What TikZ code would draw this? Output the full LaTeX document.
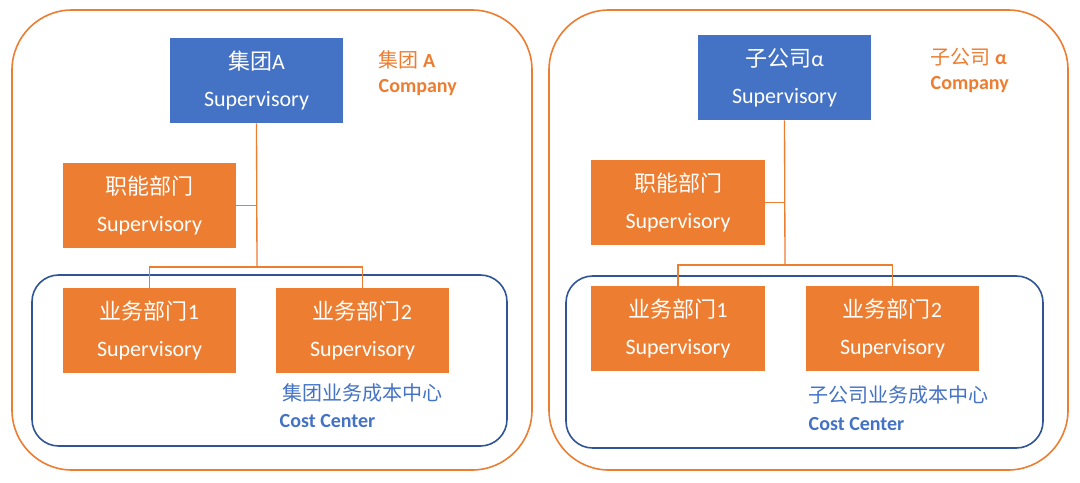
\documentclass[tikz,border=0pt]{standalone}
\usepackage{fontspec}
\setmainfont{Carlito}
\newfontfamily\cjk{Noto Sans CJK SC}
\definecolor{org}{HTML}{ED7D31}
\definecolor{bbox}{HTML}{4472C4}
\definecolor{dblue}{HTML}{2F5597}
\begin{document}
\begin{tikzpicture}[x=0.75pt,y=-0.75pt,
  obox/.style={fill=org,text=white,minimum width=130pt,minimum height=64pt,align=center,font=\fontsize{16.5}{28}\selectfont,inner sep=0pt},
  bbx/.style={obox,fill=bbox},
  ln/.style={org,line width=1pt},
  lab/.style={font=\fontsize{15}{17}\selectfont,anchor=west}]
\useasboundingbox (0,0) rectangle (1080,482);
\fill[white] (0,0) rectangle (1080,482);
% left
\draw[org,line width=1.2pt,rounded corners=45pt] (12,10) rectangle (532,470);
\draw[dblue,line width=1.2pt,rounded corners=20pt] (32,275) rectangle (507,446);
\node[bbx] (ta) at (256.5,80.5) {{\cjk 集团}A\\Supervisory};
\node[obox] (fa) at (149.5,205.5) {{\cjk 职能部门}\\Supervisory};
\node[obox] (b1a) at (149.5,330.5) {{\cjk 业务部门}1\\Supervisory};
\node[obox] (b2a) at (362.5,330.5) {{\cjk 业务部门}2\\Supervisory};
\coordinate (ja) at (257,267);
\draw[ln] (ta.south) -- (ja);
\draw[ln] (fa.east) -- (fa.east -| ja);
\draw[ln] (b1a.north) |- (ja) -| (b2a.north);
\node[lab,text=org] (ca) at (374,60) {{\cjk 集团} \textbf{A}};
\node[lab,text=org] (ca2) at (374,88) {\textbf{Company}};
\node[lab,text=bbox,anchor=west] (cca) at (278,393) {\cjk 集团业务成本中心};
\node[lab,text=bbox] (cca2) at (275,421) {\textbf{Cost Center}};
% right
\draw[org,line width=1.2pt,rounded corners=45pt] (549,10) rectangle (1068,470);
\draw[dblue,line width=1.2pt,rounded corners=20pt] (566,276) rectangle (1043,448);
\node[bbx] (tb) at (784.5,77.5) {{\cjk 子公司}α\\Supervisory};
\node[obox] (fb) at (678,202.5) {{\cjk 职能部门}\\Supervisory};
\node[obox] (b1b) at (678,328.5) {{\cjk 业务部门}1\\Supervisory};
\node[obox] (b2b) at (892.5,328.5) {{\cjk 业务部门}2\\Supervisory};
\coordinate (jb) at (785,265);
\draw[ln] (tb.south) -- (jb);
\draw[ln] (fb.east) -- (fb.east -| jb);
\draw[ln] (b1b.north) |- (jb) -| (b2b.north);
\node[lab,text=org] (cb) at (926,57) {{\cjk 子公司} \textbf{α}};
\node[lab,text=org] (cb2) at (926,85) {\textbf{Company}};
\node[lab,text=bbox] (ccb) at (804,395) {\cjk 子公司业务成本中心};
\node[lab,text=bbox] (ccb2) at (804,424) {\textbf{Cost Center}};
\end{tikzpicture}
\end{document}
